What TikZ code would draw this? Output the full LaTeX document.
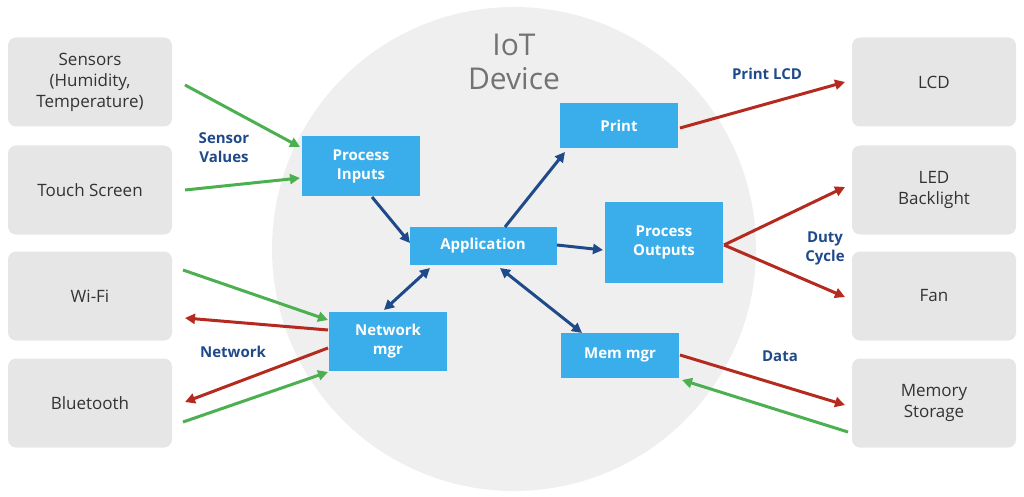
\documentclass[tikz,border=0pt]{standalone}
\usepackage{fontspec}
\setmainfont{Open Sans}
\usetikzlibrary{arrows.meta}
\definecolor{gbox}{HTML}{E6E6E6}
\definecolor{circ}{HTML}{EFEFEF}
\definecolor{bbox}{HTML}{3AAEEA}
\definecolor{dblue}{HTML}{1F4A8A}
\definecolor{agreen}{HTML}{4CAF50}
\definecolor{ared}{HTML}{B52A1E}
\begin{document}
\begin{tikzpicture}[x=1pt,y=-1pt,
 gray/.style={fill=gbox,rounded corners=8pt,minimum width=164pt,minimum height=89pt,align=center,font=\fontsize{17}{21}\selectfont,text=black!80},
 blue/.style={fill=bbox,minimum width=118pt,align=center,text=white,font=\bfseries\fontsize{15}{19}\selectfont},
 lab/.style={text=dblue,font=\bfseries\fontsize{15}{19}\selectfont,align=center},
 ga/.style={draw=agreen,line width=3pt,-{Triangle[length=10pt,width=10pt]}},
 ra/.style={draw=ared,line width=3pt,-{Triangle[length=10pt,width=10pt]}},
 ba/.style={draw=dblue,line width=3pt,-{Triangle[length=10pt,width=10pt]}},
 bb/.style={draw=dblue,line width=3pt,{Triangle[length=10pt,width=10pt]}-{Triangle[length=10pt,width=10pt]}}]
\useasboundingbox (0,0) rectangle (1024,497);
\fill[circ] (514,249) circle (242);
\node[text=black!55,font=\fontsize{30}{34}\selectfont,align=center] (title) at (514,62) {IoT\\Device};
\node[gray] (sen) at (90,82) {Sensors\\(Humidity,\\Temperature)};
\node[gray] (touch) at (90,190) {Touch Screen};
\node[gray] (wifi) at (90,296) {Wi-Fi};
\node[gray] (bt) at (90,403) {Bluetooth};
\node[gray] (lcd) at (934,82) {LCD};
\node[gray] (led) at (934,190) {LED\\Backlight};
\node[gray] (fan) at (934,296) {Fan};
\node[gray] (mem) at (934,403) {Memory\\Storage};
\node[blue,minimum height=59pt] (pin) at (361,166) {Process\\Inputs};
\node[blue,minimum width=147pt,minimum height=38pt] (app) at (483,246) {Application};
\node[blue,minimum height=45pt] (print) at (619,126) {Print};
\node[blue,minimum height=81pt] (pout) at (664,242) {Process\\Outputs};
\node[blue,minimum height=59pt] (net) at (388,341) {Network\\mgr};
\node[blue,minimum height=45pt] (mm) at (620,355) {Mem mgr};
\node[lab] at (224,148) {Sensor\\Values};
\node[lab] at (233,352) {Network};
\node[lab] at (767,74) {Print LCD};
\node[lab] at (825,248) {Duty\\Cycle};
\node[lab] at (780,356) {Data};
\coordinate (g1) at (185,85); \coordinate (g2) at (185,190);
\coordinate (g3) at (183,270); \coordinate (g4) at (183,422);
\coordinate (g5) at (848,432);
\coordinate (r1) at (185,318); \coordinate (r2) at (185,402);
\coordinate (r3) at (845,82); \coordinate (r4) at (845,187);
\coordinate (r5) at (845,297); \coordinate (r6) at (845,405);
\draw[ga] (g1) -- (300,147);
\draw[ga] (g2) -- (300,178);
\draw[ga] (g3) -- (328,320);
\draw[ga] (g4) -- (328,372);
\draw[ga] (g5) -- (682,380);
\draw[ra] (328,330) -- (r1);
\draw[ra] (328,348) -- (r2);
\draw[ra] (680,128) -- (r3);
\draw[ra] (724,245) -- (r4);
\draw[ra] (724,245) -- (r5);
\draw[ra] (680,355) -- (r6);
\draw[ba] (372,197) -- (410,243);
\draw[ba] (557,245) -- (603,250);
\draw[ba] (505,227) -- (565,152);
\draw[bb] (384,310) -- (430,268);
\draw[bb] (500,268) -- (582,333);
\end{tikzpicture}
\end{document}
